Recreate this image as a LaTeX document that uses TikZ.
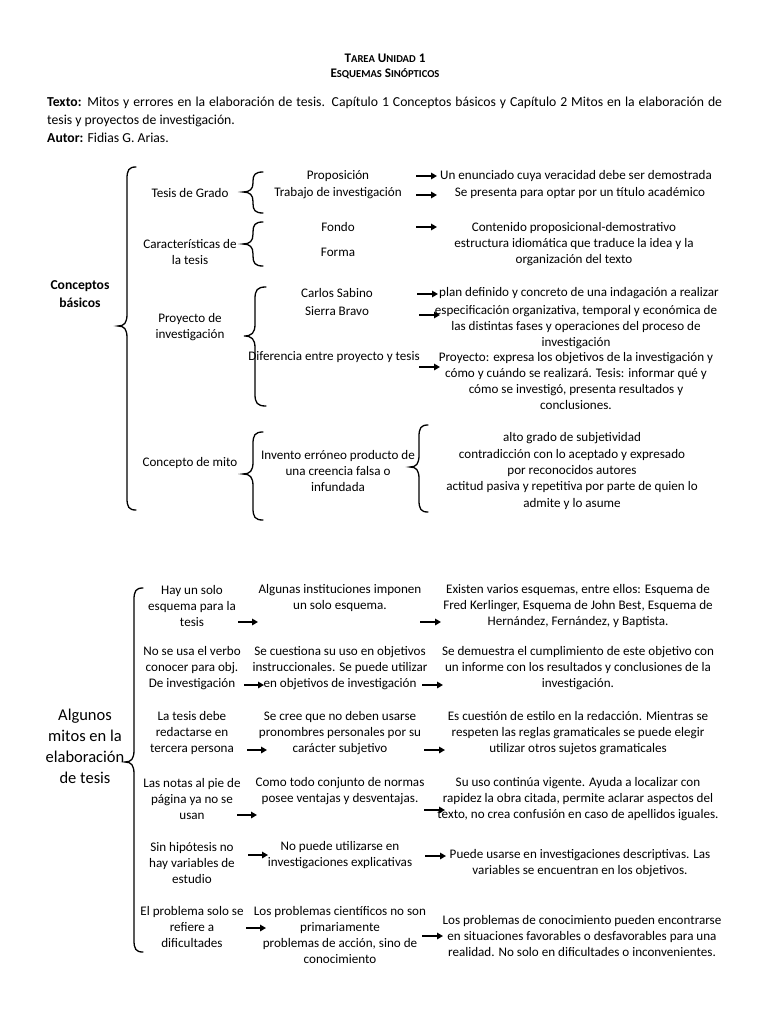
\documentclass[tikz,border=0pt]{standalone}
\usepackage{fontspec}
\setmainfont{Carlito}
\usetikzlibrary{arrows.meta}
\newcommand\mapfont{\fontsize{13.1}{16.3}\selectfont}
\newcommand\bigfont{\fontsize{16.5}{21}\selectfont}
\newcommand\capfont{\fontsize{10.6}{12}\selectfont}
% #1 stroke x, #2 half width, #3 top, #4 tip, #5 bottom
\newcommand\mapbrace[5]{%
  \pgfmathsetmacro\bru{min(12,(#4-#3)/2-1)}%
  \pgfmathsetmacro\brd{min(12,(#5-#4)/2-1)}%
  \draw[bracestroke] ({#1+#2},#3) .. controls ({#1+0.2*#2},#3) and (#1,{#3+3}) .. (#1,{#3+\bru})
    -- (#1,{#4-\bru}) .. controls (#1,{#4-3}) and ({#1-0.3*#2},#4) .. ({#1-#2},#4)
    .. controls ({#1-0.3*#2},#4) and (#1,{#4+3}) .. (#1,{#4+\brd})
    -- (#1,{#5-\brd}) .. controls (#1,{#5-3}) and ({#1+0.2*#2},#5) .. ({#1+#2},#5);}
\tikzset{
    mapbox/.style={font=\mapfont, align=center, inner sep=2pt},
    maphead/.style={font=\mapfont\bfseries, align=center, inner sep=0pt},
    mapbig/.style={font=\bigfont, align=center, inner sep=0pt},
    maparrow/.style={-{Triangle[length=6pt,width=6.5pt]}, line width=1.5pt},
    bracestroke/.style={line width=1.3pt, line cap=round}
}

\begin{document}
\begin{tikzpicture}[x=1pt, y=-1pt]
\useasboundingbox (0,0) rectangle (768,1024);
\fill[white] (0,0) rectangle (768,1024);

% header
\node[maphead] (title) at (385,58) {T{\capfont AREA} U{\capfont NIDAD} 1};
\node[maphead] (subtitle) at (385,74) {E{\capfont SQUEMAS} S{\capfont INÓPTICOS}};
\node[font=\fontsize{13.7}{18}\selectfont, align=left, anchor=north west, inner sep=0pt] (texto) at (47,97)
  {\hbox to 675pt{\textbf{Texto:} Mitos y errores en la elaboración de tesis. Capítulo 1 Conceptos básicos y Capítulo 2 Mitos en la elaboración de}\\
   tesis y proyectos de investigación.\\
   \textbf{Autor:} Fidias G. Arias.};

% Conceptos basicos
\node[maphead, font=\fontsize{13.6}{18}\selectfont\bfseries] (cb) at (80,294) {Conceptos\\básicos};
\mapbrace{127}{9}{167}{326}{510}

\node[mapbox] (tg) at (190,193) {Tesis de Grado};
\mapbrace{253}{10}{172}{192}{213}
\node[mapbox] (prop) at (338,176) {Proposición};
\node[mapbox] (tinv) at (338,193) {Trabajo de investigación};
\node[mapbox, anchor=west, inner sep=1pt] (d1) at (439,176) {Un enunciado cuya veracidad debe ser demostrada};
\node[mapbox] (d2) at (580,193) {Se presenta para optar por un título académico};

\node[mapbox] (ct) at (190,252) {Características de\\la tesis};
\mapbrace{253}{10}{222}{244}{266}
\node[mapbox] (fondo) at (338,227) {Fondo};
\node[mapbox] (forma) at (338,252) {Forma};
\node[mapbox] (dfo) at (574,244) {Contenido proposicional-demostrativo\\estructura idiomática que traduce la idea y la\\organización del texto};

\node[mapbox] (py) at (190,327) {Proyecto de\\investigación};
\mapbrace{255}{11}{287}{336}{406}
\node[mapbox] (cs) at (337,293) {Carlos Sabino};
\node[mapbox] (sbr) at (337,311) {Sierra Bravo};
\node[mapbox] (dif) at (334,357) {Diferencia entre proyecto y tesis};
\node[mapbox, anchor=west, inner sep=1pt] (dcs) at (438,293) {plan definido y concreto de una indagación a realizar};
\node[mapbox] (dsb) at (576,327) {especificación organizativa, temporal y económica de\\las distintas fases y operaciones del proceso de\\investigación};
\node[mapbox] (ddif) at (576,381) {Proyecto: expresa los objetivos de la investigación y\\cómo y cuándo se realizará. Tesis: informar qué y\\cómo se investigó, presenta resultados y\\conclusiones.};

\node[mapbox] (cm) at (190,463) {Concepto de mito};
\mapbrace{253}{10}{432}{474}{520}
\node[mapbox] (inv) at (338,471) {Invento erróneo producto de\\una creencia falsa o\\infundada};
\mapbrace{419}{9}{425}{467}{512}
\node[mapbox] (dcm) at (572,471) {alto grado de subjetividad\\contradicción con lo aceptado y expresado\\por reconocidos autores\\actitud pasiva y repetitiva por parte de quien lo\\admite y lo asume};

\coordinate (ta1) at (416,176);
\coordinate (ta2) at (416,195);
\coordinate (ta3) at (416,227);
\coordinate (ta4) at (417,294);
\coordinate (ta5) at (419,315);
\coordinate (ta6) at (419,367);
\foreach \t in {ta1,ta2,ta3,ta4,ta5,ta6}
  \draw[maparrow] (\t) -- ++(21,0);

% Algunos mitos
\node[mapbig] (am) at (85,746) {Algunos\\mitos en la\\elaboración\\de tesis};
\mapbrace{134}{9}{588}{762}{952}

\node[mapbox] (r1a) at (192,606) {Hay un solo\\esquema para la\\tesis};
\node[mapbox] (r1b) at (340,598) {Algunas instituciones imponen\\un solo esquema.};
\node[mapbox] (r1c) at (578,606) {Existen varios esquemas, entre ellos: Esquema de\\Fred Kerlinger, Esquema de John Best, Esquema de\\Hernández, Fernández, y Baptista.};

\node[mapbox] (r2a) at (192,668) {No se usa el verbo\\conocer para obj.\\De investigación};
\node[mapbox] (r2b) at (340,668) {Se cuestiona su uso en objetivos\\instruccionales. Se puede utilizar\\en objetivos de investigación};
\node[mapbox] (r2c) at (578,668) {Se demuestra el cumplimiento de este objetivo con\\un informe con los resultados y conclusiones de la\\investigación.};

\node[mapbox] (r3a) at (192,733) {La tesis debe\\redactarse en\\tercera persona};
\node[mapbox] (r3b) at (340,733) {Se cree que no deben usarse\\pronombres personales por su\\carácter subjetivo};
\node[mapbox] (r3c) at (578,733) {Es cuestión de estilo en la redacción. Mientras se\\respeten las reglas gramaticales se puede elegir\\utilizar otros sujetos gramaticales};

\node[mapbox] (r4a) at (192,799) {Las notas al pie de\\página ya no se\\usan};
\node[mapbox] (r4b) at (340,791) {Como todo conjunto de normas\\posee ventajas y desventajas.};
\node[mapbox] (r4c) at (578,799) {Su uso continúa vigente. Ayuda a localizar con\\rapidez la obra citada, permite aclarar aspectos del\\texto, no crea confusión en caso de apellidos iguales.};

\node[mapbox] (r5a) at (192,863) {Sin hipótesis no\\hay variables de\\estudio};
\node[mapbox] (r5b) at (340,855) {No puede utilizarse en\\investigaciones explicativas};
\node[mapbox] (r5c) at (580,863) {Puede usarse en investigaciones descriptivas. Las\\variables se encuentran en los objetivos.};

\node[mapbox] (r6a) at (192,927) {El problema solo se\\refiere a\\dificultades};
\node[mapbox] (r6b) at (340,935) {Los problemas científicos no son\\primariamente\\problemas de acción, sino de\\conocimiento};
\node[mapbox] (r6c) at (582,936) {Los problemas de conocimiento pueden encontrarse\\en situaciones favorables o desfavorables para una\\realidad. No solo en dificultades o inconvenientes.};

% arrows between the columns
\foreach \n/\xa/\ya/\xb/\yb in {1/238/622/420/622, 2/244/685/422/685, 3/247/750/424/750,
    4/237/815/424/810, 5/248/855/425/856, 6/246/928/422/936} {
  \coordinate (m\n a) at (\xa,\ya);
  \coordinate (m\n b) at (\xb,\yb);
  \draw[maparrow] (m\n a) -- ++(20,0);
  \draw[maparrow] (m\n b) -- ++(21,0);
}

\end{tikzpicture}
\end{document}
